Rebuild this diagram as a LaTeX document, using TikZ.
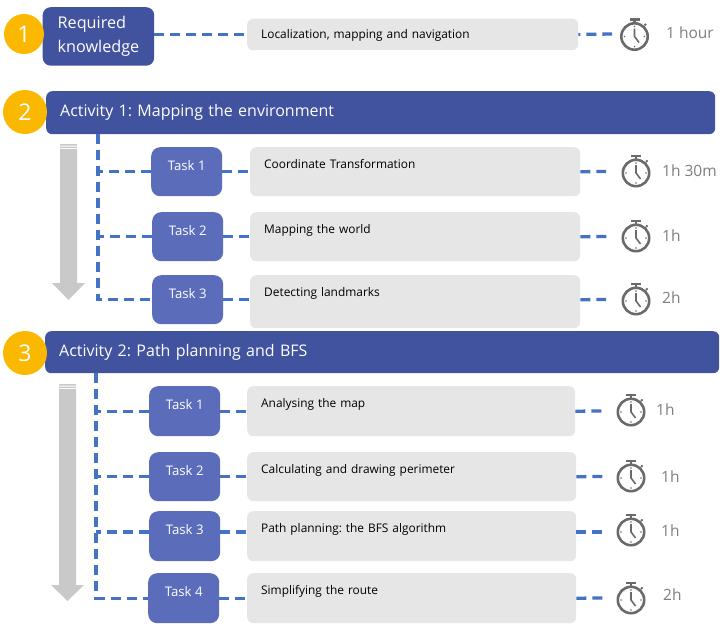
\documentclass[tikz,border=0pt]{standalone}
\usepackage{fontspec}
\setmainfont{Open Sans}
\frenchspacing
\definecolor{barblue}{HTML}{41529F}
\definecolor{taskblue}{HTML}{5A6CBA}
\definecolor{descgray}{HTML}{E6E6E6}
\definecolor{badgeyellow}{HTML}{FBB800}
\definecolor{linkblue}{HTML}{4472C4}
\definecolor{watchgray}{HTML}{6A6A6A}
\definecolor{timegray}{HTML}{7F7F7F}
\definecolor{arrowgray}{HTML}{C9C9C9}
\tikzset{
    badge/.style = {circle, fill = badgeyellow, text = white, inner sep = 0pt, font = \fontsize{23}{23}\selectfont},
    actbar/.style = {rectangle, rounded corners = 6pt, fill = barblue, text = white, anchor = north west, inner ysep = 0pt,
        inner xsep = 14pt, align = left, font = \fontsize{16}{18}\selectfont},
    reqbox/.style = {rectangle, rounded corners = 8pt, fill = barblue, text = white, anchor = north west, inner ysep = 0pt,
        inner xsep = 15pt, align = left, font = \fontsize{16.2}{24}\selectfont},
    taskbox/.style = {rectangle, rounded corners = 9pt, fill = taskblue, text = white, anchor = north west, inner sep = 0pt,
        minimum width = 71pt, minimum height = 49pt, text depth = 13pt, font = \fontsize{13.2}{14}\selectfont},
    descbox/.style = {rectangle, rounded corners = 6pt, fill = descgray, text = black, anchor = north west, inner ysep = 0pt,
        inner xsep = 14pt, align = left, text depth = 16pt, font = \fontsize{11.9}{14}\selectfont},
    timelabel/.style = {anchor = west, text = timegray, inner sep = 0pt, font = \fontsize{15.5}{16}\selectfont},
    link/.style = {linkblue, line width = 3.3pt, dash pattern = on 10pt off 6pt},
    timearrow/.style = {fill = arrowgray, draw = none},
    stopwatch/.pic = {
        \draw[watchgray, line width = 2.6pt] (0, 0) circle(13.2);
        \fill[watchgray] (-5, -18.5) rectangle (5, -16);
        \fill[watchgray] (-1.3, -16) rectangle (1.3, -13);
        \draw[watchgray, line width = 2pt] (10, -11) -- (11.5, -12.5);
        \draw[watchgray, line width = 1.6pt] (0, -8) -- (0, 0) -- (4.5, 6);
        \fill[watchgray] (0, -10) circle(.8) (0, 10) circle(.8) (-10, 0) circle(.8) (10, 0) circle(.8);
    }
}
\begin{document}
\begin{tikzpicture}[x = 1pt, y = -1pt]
    \useasboundingbox (0, 0) rectangle (725, 629);

    \fill[timearrow] (60, 149) -- (77, 149) -- (77, 283) -- (85, 283) -- (68.5, 300) -- (52, 283) -- (60, 283) -- cycle;
    \fill[timearrow] (60, 144) rectangle (77, 145.5) (60, 146.5) rectangle (77, 148);
    \fill[timearrow] (59, 389) -- (76, 389) -- (76, 585) -- (84, 585) -- (67.5, 601) -- (51, 585) -- (59, 585) -- cycle;
    \fill[timearrow] (59, 384) rectangle (76, 385.5) (59, 386.5) rectangle (76, 388);

    \node[reqbox, minimum height = 58.5pt, text width = 81.5pt] (req) at (42.5, 7) {Required\\knowledge};
    \node[descbox, text depth = 0pt, text width = 303pt, minimum height = 31.5pt] (reqdesc) at (247, 18.5) {Localization, mapping and navigation};
    \node[badge, minimum size = 40pt] (badge1) at (24, 34) {1};
    \coordinate (reqend) at (612, 34);
    \draw[link] (req.east |- reqdesc.west) -- (reqdesc.west);
    \draw[link, dash phase = 8pt] (reqdesc.east) -- (reqend);
    \pic at (634.5, 36.5) {stopwatch};
    \node[timelabel] (reqtime) at (666, 33) {1 hour};

    \node[actbar, minimum height = 43pt, text width = 641pt] (act1) at (46, 91) {Activity 1: Mapping the environment};
    \node[badge, minimum size = 44pt] (badge2) at (25, 112) {2};
    \coordinate (spine1) at (98, 134);

    \node[taskbox] (a1t1) at (151, 147) {Task 1};
    \node[taskbox] (a1t2) at (152, 212) {Task 2};
    \node[taskbox] (a1t3) at (152, 275) {Task 3};
    \node[descbox, text width = 302pt, minimum height = 49pt] (a1d1) at (250, 147) {Coordinate Transformation};
    \node[descbox, text width = 302pt, minimum height = 49pt] (a1d2) at (250, 212) {Mapping the world};
    \node[descbox, text width = 302pt, minimum height = 53pt, text depth = 20pt] (a1d3) at (250, 275) {Detecting landmarks};
    \coordinate (a1e1) at (606, 171.5);
    \coordinate (a1e2) at (612, 236.5);
    \coordinate (a1e3) at (606, 299.5);

    \draw[link] (spine1) |- (a1t3.west);
    \draw[link] (a1t1.west) -- (a1t1.west -| spine1);
    \draw[link] (a1t2.west) -- (a1t2.west -| spine1);
    \draw[link] (a1t1.east) -- (a1d1.west);
    \draw[link] (a1t2.east) -- (a1d2.west);
    \draw[link] (a1t3.east) -- (a1d3.west |- a1t3.east);
    \draw[link] (a1d1.east) -- (a1e1);
    \draw[link] (a1d2.east) -- (a1e2);
    \draw[link] (a1d3.east |- a1t3.east) -- (a1e3);

    \pic at (636, 173) {stopwatch};
    \pic at (636, 238) {stopwatch};
    \pic at (636, 301) {stopwatch};
    \node[timelabel] (a1time1) at (662, 171) {1h 30m};
    \node[timelabel] (a1time2) at (662, 236) {1h};
    \node[timelabel] (a1time3) at (662, 298) {2h};

    \node[actbar, minimum height = 42pt, text width = 646pt] (act2) at (45, 331) {Activity 2: Path planning and BFS};
    \node[badge, minimum size = 44pt] (badge3) at (25, 353) {3};
    \coordinate (spine2) at (96, 373);

    \node[taskbox, minimum height = 50pt] (a2t1) at (149, 386) {Task 1};
    \node[taskbox] (a2t2) at (149, 452) {Task 2};
    \node[taskbox, minimum height = 50pt] (a2t3) at (149, 511) {Task 3};
    \node[taskbox, minimum height = 50pt] (a2t4) at (148, 573) {Task 4};
    \node[descbox, text width = 300pt, minimum height = 50pt] (a2d1) at (247, 386) {Analysing the map};
    \node[descbox, text width = 301pt, minimum height = 49pt] (a2d2) at (247, 452) {Calculating and drawing perimeter};
    \node[descbox, text width = 301pt, minimum height = 50pt] (a2d3) at (247, 511) {Path planning: the BFS algorithm};
    \node[descbox, text width = 301pt, minimum height = 50pt] (a2d4) at (247, 573) {Simplifying the route};
    \coordinate (a2row3) at (96, 532);
    \coordinate (a2e1) at (604, 411);
    \coordinate (a2e2) at (604, 476.5);
    \coordinate (a2e3) at (604, 532);
    \coordinate (a2e4) at (604, 598);

    \draw[link] (spine2) |- (a2t4.west);
    \draw[link] (a2t1.west) -- (a2t1.west -| spine2);
    \draw[link] (a2t2.west) -- (a2t2.west -| spine2);
    \draw[link] (a2t3.west |- a2row3) -- (a2row3);
    \draw[link] (a2t1.east) -- (a2d1.west);
    \draw[link] (a2t2.east) -- (a2d2.west);
    \draw[link] (a2t3.east |- a2row3) -- (a2d3.west |- a2row3);
    \draw[link] (a2t4.east) -- (a2d4.west);
    \draw[link] (a2d1.east) -- (a2e1);
    \draw[link] (a2d2.east) -- (a2e2);
    \draw[link] (a2d3.east |- a2row3) -- (a2e3);
    \draw[link] (a2d4.east) -- (a2e4);

    \pic at (631, 412) {stopwatch};
    \pic at (631, 478) {stopwatch};
    \pic at (631, 532) {stopwatch};
    \pic at (631, 600) {stopwatch};
    \node[timelabel] (a2time1) at (656, 410) {1h};
    \node[timelabel] (a2time2) at (661, 477) {1h};
    \node[timelabel] (a2time3) at (661, 531) {1h};
    \node[timelabel] (a2time4) at (663, 595) {2h};
\end{tikzpicture}
\end{document}
